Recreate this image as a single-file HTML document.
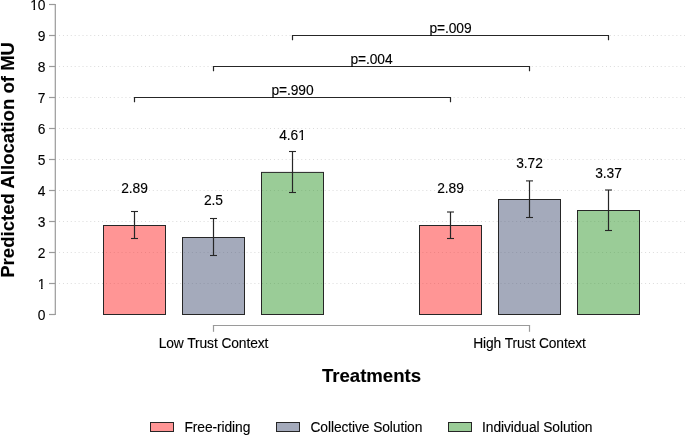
<!DOCTYPE html><html><head><meta charset="utf-8"><style>html,body{margin:0;padding:0;background:#fff;}svg{display:block;}text{font-family:"Liberation Sans", Arial, Helvetica, sans-serif;fill:#000;stroke:#000;stroke-width:0.12px;letter-spacing:-0.09px;} text.b{letter-spacing:0;}</style></head><body>
<svg width="685" height="435" viewBox="0 0 685 435">
<rect width="685" height="435" fill="#fff"/>
<defs><clipPath id="c461"><rect x="0" y="0" width="685" height="138.00"/><rect x="301.41" y="0" width="1.6" height="435"/><rect x="0" y="0" width="298.01" height="435"/><rect x="305.96" y="0" width="379.04" height="435"/></clipPath><clipPath id="c1"><rect x="0" y="0" width="685" height="287.00"/><rect x="41.06" y="0" width="1.6" height="435"/><rect x="0" y="0" width="37.66" height="435"/><rect x="45.61" y="0" width="639.39" height="435"/></clipPath><clipPath id="c10"><rect x="0" y="0" width="685" height="8.00"/><rect x="33.48" y="0" width="1.6" height="435"/><rect x="0" y="0" width="30.08" height="435"/><rect x="38.03" y="0" width="646.97" height="435"/></clipPath></defs>
<line x1="59.05" y1="283.50" x2="685" y2="283.50" stroke="#c4c4c4" stroke-width="1" stroke-dasharray="1 2.907" opacity="0.6"/>
<line x1="59.05" y1="252.50" x2="685" y2="252.50" stroke="#c4c4c4" stroke-width="1" stroke-dasharray="1 2.907" opacity="0.6"/>
<line x1="59.05" y1="221.50" x2="685" y2="221.50" stroke="#c4c4c4" stroke-width="1" stroke-dasharray="1 2.907" opacity="0.6"/>
<line x1="59.05" y1="190.50" x2="685" y2="190.50" stroke="#c4c4c4" stroke-width="1" stroke-dasharray="1 2.907" opacity="0.6"/>
<line x1="59.05" y1="159.50" x2="685" y2="159.50" stroke="#c4c4c4" stroke-width="1" stroke-dasharray="1 2.907" opacity="0.6"/>
<line x1="59.05" y1="128.50" x2="685" y2="128.50" stroke="#c4c4c4" stroke-width="1" stroke-dasharray="1 2.907" opacity="0.6"/>
<line x1="59.05" y1="97.50" x2="685" y2="97.50" stroke="#c4c4c4" stroke-width="1" stroke-dasharray="1 2.907" opacity="0.6"/>
<line x1="59.05" y1="66.50" x2="685" y2="66.50" stroke="#c4c4c4" stroke-width="1" stroke-dasharray="1 2.907" opacity="0.6"/>
<line x1="59.05" y1="35.50" x2="685" y2="35.50" stroke="#c4c4c4" stroke-width="1" stroke-dasharray="1 2.907" opacity="0.6"/>
<rect x="103.50" y="225.50" width="62.00" height="89.00" fill="#FF2B2B" fill-opacity="0.5" stroke="#262626" stroke-width="1"/>
<rect x="182.50" y="237.50" width="62.00" height="77.00" fill="#495577" fill-opacity="0.5" stroke="#262626" stroke-width="1"/>
<rect x="261.50" y="172.40" width="62.00" height="142.10" fill="#35992F" fill-opacity="0.5" stroke="#262626" stroke-width="1"/>
<rect x="419.50" y="225.50" width="62.00" height="89.00" fill="#FF2B2B" fill-opacity="0.5" stroke="#262626" stroke-width="1"/>
<rect x="498.50" y="199.50" width="62.00" height="115.00" fill="#495577" fill-opacity="0.5" stroke="#262626" stroke-width="1"/>
<rect x="577.50" y="210.50" width="62.00" height="104.00" fill="#35992F" fill-opacity="0.5" stroke="#262626" stroke-width="1"/>
<line x1="134.50" y1="211.50" x2="134.50" y2="238.50" stroke="#262626" stroke-width="1.2"/>
<line x1="131.00" y1="211.50" x2="138.00" y2="211.50" stroke="#262626" stroke-width="1.1"/>
<line x1="131.00" y1="238.50" x2="138.00" y2="238.50" stroke="#262626" stroke-width="1.1"/>
<text x="134.50" y="193.31" font-size="13.8" text-anchor="middle">2.89</text>
<line x1="213.50" y1="218.50" x2="213.50" y2="255.50" stroke="#262626" stroke-width="1.2"/>
<line x1="210.00" y1="218.50" x2="217.00" y2="218.50" stroke="#262626" stroke-width="1.1"/>
<line x1="210.00" y1="255.50" x2="217.00" y2="255.50" stroke="#262626" stroke-width="1.1"/>
<text x="213.50" y="205.40" font-size="13.8" text-anchor="middle">2.5</text>
<line x1="292.50" y1="151.50" x2="292.50" y2="192.50" stroke="#262626" stroke-width="1.2"/>
<line x1="289.00" y1="151.50" x2="296.00" y2="151.50" stroke="#262626" stroke-width="1.1"/>
<line x1="289.00" y1="192.50" x2="296.00" y2="192.50" stroke="#262626" stroke-width="1.1"/>
<text x="292.50" y="139.99" font-size="13.8" text-anchor="middle" clip-path="url(#c461)">4.61</text>
<line x1="450.50" y1="212.00" x2="450.50" y2="238.50" stroke="#262626" stroke-width="1.2"/>
<line x1="447.00" y1="212.00" x2="454.00" y2="212.00" stroke="#262626" stroke-width="1.1"/>
<line x1="447.00" y1="238.50" x2="454.00" y2="238.50" stroke="#262626" stroke-width="1.1"/>
<text x="450.50" y="193.31" font-size="13.8" text-anchor="middle">2.89</text>
<line x1="529.50" y1="180.90" x2="529.50" y2="217.50" stroke="#262626" stroke-width="1.2"/>
<line x1="526.00" y1="180.90" x2="533.00" y2="180.90" stroke="#262626" stroke-width="1.1"/>
<line x1="526.00" y1="217.50" x2="533.00" y2="217.50" stroke="#262626" stroke-width="1.1"/>
<text x="529.50" y="167.58" font-size="13.8" text-anchor="middle">3.72</text>
<line x1="608.50" y1="190.00" x2="608.50" y2="230.50" stroke="#262626" stroke-width="1.2"/>
<line x1="605.00" y1="190.00" x2="612.00" y2="190.00" stroke="#262626" stroke-width="1.1"/>
<line x1="605.00" y1="230.50" x2="612.00" y2="230.50" stroke="#262626" stroke-width="1.1"/>
<text x="608.50" y="178.43" font-size="13.8" text-anchor="middle">3.37</text>
<line x1="55.3" y1="3.90" x2="55.3" y2="315.10" stroke="#9a9a9a" stroke-width="1.2"/>
<line x1="49" y1="314.50" x2="55.3" y2="314.50" stroke="#9a9a9a" stroke-width="1.2"/>
<text x="45.4" y="319.70" font-size="13.8" text-anchor="end">0</text>
<line x1="49" y1="283.50" x2="55.3" y2="283.50" stroke="#9a9a9a" stroke-width="1.2"/>
<text x="45.4" y="288.70" font-size="13.8" text-anchor="end" clip-path="url(#c1)">1</text>
<line x1="49" y1="252.50" x2="55.3" y2="252.50" stroke="#9a9a9a" stroke-width="1.2"/>
<text x="45.4" y="257.70" font-size="13.8" text-anchor="end">2</text>
<line x1="49" y1="221.50" x2="55.3" y2="221.50" stroke="#9a9a9a" stroke-width="1.2"/>
<text x="45.4" y="226.70" font-size="13.8" text-anchor="end">3</text>
<line x1="49" y1="190.50" x2="55.3" y2="190.50" stroke="#9a9a9a" stroke-width="1.2"/>
<text x="45.4" y="195.70" font-size="13.8" text-anchor="end">4</text>
<line x1="49" y1="159.50" x2="55.3" y2="159.50" stroke="#9a9a9a" stroke-width="1.2"/>
<text x="45.4" y="164.70" font-size="13.8" text-anchor="end">5</text>
<line x1="49" y1="128.50" x2="55.3" y2="128.50" stroke="#9a9a9a" stroke-width="1.2"/>
<text x="45.4" y="133.70" font-size="13.8" text-anchor="end">6</text>
<line x1="49" y1="97.50" x2="55.3" y2="97.50" stroke="#9a9a9a" stroke-width="1.2"/>
<text x="45.4" y="102.70" font-size="13.8" text-anchor="end">7</text>
<line x1="49" y1="66.50" x2="55.3" y2="66.50" stroke="#9a9a9a" stroke-width="1.2"/>
<text x="45.4" y="71.70" font-size="13.8" text-anchor="end">8</text>
<line x1="49" y1="35.50" x2="55.3" y2="35.50" stroke="#9a9a9a" stroke-width="1.2"/>
<text x="45.4" y="40.70" font-size="13.8" text-anchor="end">9</text>
<line x1="49" y1="4.50" x2="55.3" y2="4.50" stroke="#9a9a9a" stroke-width="1.2"/>
<text x="45.4" y="9.70" font-size="13.8" text-anchor="end" clip-path="url(#c10)">10</text>
<line x1="212.90" y1="325.5" x2="530.10" y2="325.5" stroke="#9a9a9a" stroke-width="1.2"/>
<line x1="213.50" y1="325.5" x2="213.50" y2="331.8" stroke="#9a9a9a" stroke-width="1.2"/>
<line x1="529.50" y1="325.5" x2="529.50" y2="331.8" stroke="#9a9a9a" stroke-width="1.2"/>
<text x="213.5" y="348" font-size="13.8" text-anchor="middle">Low Trust Context</text>
<text x="529.5" y="348" font-size="13.8" text-anchor="middle">High Trust Context</text>
<path d="M134.50 102.20 V97.50 H450.50 V102.20" fill="none" stroke="#262626" stroke-width="1.2"/>
<text x="292.50" y="95.40" font-size="13.8" text-anchor="middle">p=.990</text>
<path d="M213.50 71.20 V66.50 H529.50 V71.20" fill="none" stroke="#262626" stroke-width="1.2"/>
<text x="371.50" y="64.40" font-size="13.8" text-anchor="middle">p=.004</text>
<path d="M292.50 40.20 V35.50 H608.50 V40.20" fill="none" stroke="#262626" stroke-width="1.2"/>
<text x="450.50" y="33.40" font-size="13.8" text-anchor="middle">p=.009</text>
<text x="371.5" y="382.2" font-size="18.6" font-weight="bold" class="b" text-anchor="middle">Treatments</text>
<text transform="translate(14.4 159.9) rotate(-90)" font-size="18.6" font-weight="bold" class="b" text-anchor="middle">Predicted Allocation of MU</text>
<rect x="150.50" y="422.5" width="23" height="9" fill="#FF9595" stroke="#262626" stroke-width="1"/>
<text x="184.50" y="431.7" font-size="13.8">Free-riding</text>
<rect x="276.50" y="422.5" width="23" height="9" fill="#A4AABB" stroke="#262626" stroke-width="1"/>
<text x="310.50" y="431.7" font-size="13.8">Collective Solution</text>
<rect x="448.50" y="422.5" width="23" height="9" fill="#9ACC97" stroke="#262626" stroke-width="1"/>
<text x="482.10" y="431.7" font-size="13.8">Individual Solution</text>
</svg></body></html>
